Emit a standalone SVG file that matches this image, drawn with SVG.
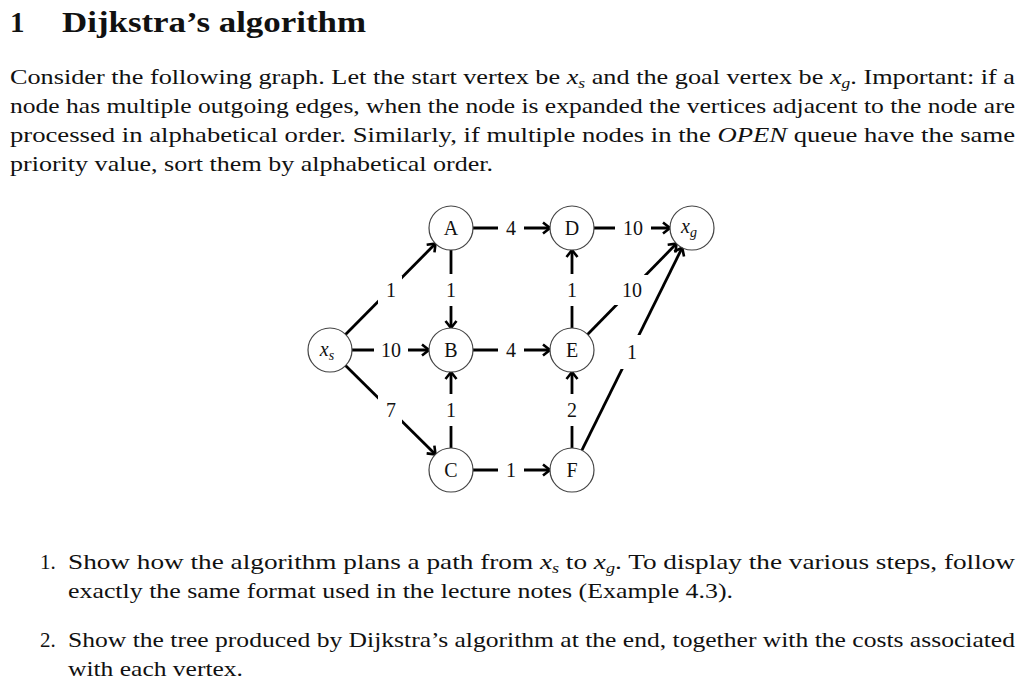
<svg xmlns="http://www.w3.org/2000/svg" width="1024" height="700" viewBox="0 0 1024 700">
<style>
text{font-family:"Liberation Serif",serif;fill:#111}
.b{font-size:21px}
.n{fill:#fff;stroke:#444;stroke-width:1.2}
.e{stroke:#000;stroke-width:2.8;fill:none;marker-end:url(#ar)}
.l{font-size:20px;text-anchor:middle}
.m{font-style:italic}
</style>
<defs>
<marker id="ar" markerUnits="userSpaceOnUse" markerWidth="14" markerHeight="14" viewBox="-8 -7 10 14" refX="0" refY="0" orient="auto">
<path d="M-7,-5.5 L0,0 L-7,5.5" fill="none" stroke="#000" stroke-width="2.6"/>
</marker>
</defs>
<rect width="1024" height="700" fill="#fff"/>
<text x="10" y="32" font-size="29" font-weight="bold">1</text>
<text x="62" y="32" font-size="29" font-weight="bold" textLength="304" lengthAdjust="spacingAndGlyphs">Dijkstra’s algorithm</text>
<text class="b" x="10" y="84" textLength="1005" lengthAdjust="spacingAndGlyphs">Consider the following graph. Let the start vertex be <tspan class="m">x</tspan><tspan class="m" font-size="14" dy="4">s</tspan><tspan dy="-4"> and the goal vertex be </tspan><tspan class="m">x</tspan><tspan class="m" font-size="14" dy="4">g</tspan><tspan dy="-4">. Important: if a</tspan></text>
<text class="b" x="10" y="113" textLength="1005" lengthAdjust="spacingAndGlyphs">node has multiple outgoing edges, when the node is expanded the vertices adjacent to the node are</text>
<text class="b" x="10" y="142" textLength="1005" lengthAdjust="spacingAndGlyphs">processed in alphabetical order. Similarly, if multiple nodes in the <tspan class="m">OPEN</tspan> queue have the same</text>
<text class="b" x="10" y="171" textLength="483" lengthAdjust="spacingAndGlyphs">priority value, sort them by alphabetical order.</text>
<g id="connectors">
<line class="e" x1="345.5" y1="334.4" x2="435.5" y2="243.6"/>
<line class="e" x1="352" y1="350" x2="429" y2="350"/>
<line class="e" x1="345.5" y1="365.6" x2="435.5" y2="454.4"/>
<line class="e" x1="473" y1="228" x2="550" y2="228"/>
<line class="e" x1="594" y1="228" x2="670" y2="228"/>
<line class="e" x1="451" y1="250" x2="451" y2="328"/>
<line class="e" x1="451" y1="448" x2="451" y2="372"/>
<line class="e" x1="473" y1="350" x2="550" y2="350"/>
<line class="e" x1="473" y1="470" x2="550" y2="470"/>
<line class="e" x1="572" y1="328" x2="572" y2="250"/>
<line class="e" x1="572" y1="448" x2="572" y2="372"/>
<line class="e" x1="587.5" y1="334.4" x2="676.5" y2="243.6"/>
<line class="e" x1="581.8" y1="450.3" x2="682.2" y2="247.7"/>
<g fill="#fff">
<rect x="378" y="276" width="24" height="30"/>
<rect x="374" y="337" width="34" height="26"/>
<rect x="378" y="395" width="24" height="30"/>
<rect x="498" y="215" width="26" height="26"/>
<rect x="615" y="215" width="36" height="26"/>
<rect x="441" y="274" width="20" height="32"/>
<rect x="441" y="394" width="20" height="32"/>
<rect x="498" y="337" width="26" height="26"/>
<rect x="498" y="457" width="26" height="26"/>
<rect x="562" y="274" width="20" height="32"/>
<rect x="562" y="394" width="20" height="32"/>
<rect x="614" y="275" width="36" height="30"/>
<rect x="620" y="335" width="24" height="34"/>
</g>
<text class="l" x="391" y="297">1</text>
<text class="l" x="391" y="357">10</text>
<text class="l" x="391" y="417">7</text>
<text class="l" x="511" y="235">4</text>
<text class="l" x="633" y="235">10</text>
<text class="l" x="451" y="297">1</text>
<text class="l" x="451" y="417">1</text>
<text class="l" x="511" y="357">4</text>
<text class="l" x="511" y="477">1</text>
<text class="l" x="572" y="297">1</text>
<text class="l" x="572" y="417">2</text>
<text class="l" x="632" y="297">10</text>
<text class="l" x="632" y="359">1</text>
</g>
<g id="xs"><circle class="n" cx="330" cy="350" r="22"/><text class="l m" x="327" y="356">x<tspan font-size="14" dy="4">s</tspan></text></g>
<g id="A"><circle class="n" cx="451" cy="228" r="22"/><text class="l" x="451" y="235">A</text></g>
<g id="B"><circle class="n" cx="451" cy="350" r="22"/><text class="l" x="451" y="357">B</text></g>
<g id="C"><circle class="n" cx="451" cy="470" r="22"/><text class="l" x="451" y="477">C</text></g>
<g id="D"><circle class="n" cx="572" cy="228" r="22"/><text class="l" x="572" y="235">D</text></g>
<g id="E"><circle class="n" cx="572" cy="350" r="22"/><text class="l" x="572" y="357">E</text></g>
<g id="F"><circle class="n" cx="572" cy="470" r="22"/><text class="l" x="572" y="477">F</text></g>
<g id="xg"><circle class="n" cx="692" cy="228" r="22"/><text class="l m" x="689" y="233">x<tspan font-size="14" dy="4">g</tspan></text></g>
<text class="b" x="40" y="569">1.</text>
<text class="b" x="68" y="569" textLength="947" lengthAdjust="spacingAndGlyphs">Show how the algorithm plans a path from <tspan class="m">x</tspan><tspan class="m" font-size="14" dy="4">s</tspan><tspan dy="-4"> to </tspan><tspan class="m">x</tspan><tspan class="m" font-size="14" dy="4">g</tspan><tspan dy="-4">. To display the various steps, follow</tspan></text>
<text class="b" x="68" y="598" textLength="665" lengthAdjust="spacingAndGlyphs">exactly the same format used in the lecture notes (Example 4.3).</text>
<text class="b" x="40" y="647">2.</text>
<text class="b" x="68" y="647" textLength="947" lengthAdjust="spacingAndGlyphs">Show the tree produced by Dijkstra’s algorithm at the end, together with the costs associated</text>
<text class="b" x="68" y="676" textLength="175" lengthAdjust="spacingAndGlyphs">with each vertex.</text>
</svg>
